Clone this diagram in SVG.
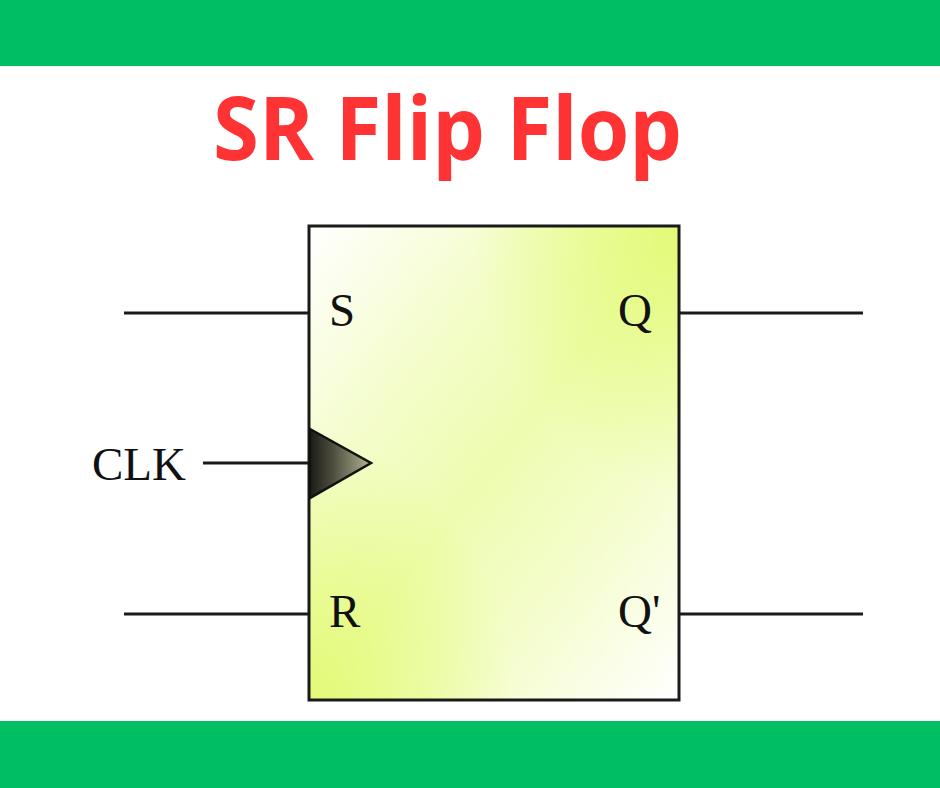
<svg xmlns="http://www.w3.org/2000/svg" width="940" height="788" viewBox="0 0 940 788">
<style>
.band{fill:#00BF63}
.wire{stroke:#1a1a1a;stroke-width:3;fill:none}
.lbl{font-family:"Liberation Serif","Times New Roman",serif;font-size:47px;fill:#111111}
.title{font-family:"Open Sans","Noto Sans",sans-serif;font-weight:bold;font-size:87px;fill:#FF3333}
</style>
<defs>
<linearGradient id="boxg" x1="0" y1="0" x2="1" y2="1">
<stop offset="0" stop-color="#ffffff"/>
<stop offset="0.28" stop-color="#f4fdcc"/>
<stop offset="0.5" stop-color="#eefcb0"/>
<stop offset="0.72" stop-color="#f4fdcc"/>
<stop offset="1" stop-color="#ffffff"/>
</linearGradient>
<radialGradient id="trg" cx="1" cy="0" r="0.55">
<stop offset="0" stop-color="#e2fa74" stop-opacity="0.95"/>
<stop offset="1" stop-color="#e2fa74" stop-opacity="0"/>
</radialGradient>
<radialGradient id="blg" cx="0" cy="1" r="0.55">
<stop offset="0" stop-color="#e2fa74" stop-opacity="0.95"/>
<stop offset="1" stop-color="#e2fa74" stop-opacity="0"/>
</radialGradient>
<linearGradient id="clkg" x1="0" y1="0" x2="1" y2="0">
<stop offset="0" stop-color="#1c1c18"/>
<stop offset="0.35" stop-color="#4a4a3c"/>
<stop offset="1" stop-color="#b4b692"/>
</linearGradient>
</defs>
<rect width="940" height="788" fill="#ffffff"/>
<rect class="band" x="0" y="0" width="940" height="66"/>
<rect class="band" x="0" y="721" width="940" height="67"/>
<text class="title" x="213" y="160" textLength="469" lengthAdjust="spacingAndGlyphs">SR Flip Flop</text>
<g id="connectors">
<line class="wire" x1="124" y1="313" x2="309" y2="313"/>
<line class="wire" x1="124" y1="614" x2="309" y2="614"/>
<line class="wire" x1="203" y1="463" x2="309" y2="463"/>
<line class="wire" x1="679" y1="313" x2="863" y2="313"/>
<line class="wire" x1="679" y1="614" x2="863" y2="614"/>
</g>
<g id="flipflop">
<rect x="309" y="226" width="370" height="474" fill="url(#boxg)"/>
<rect x="309" y="226" width="370" height="474" fill="url(#trg)"/>
<rect x="309" y="226" width="370" height="474" fill="url(#blg)"/>
<rect x="309" y="226" width="370" height="474" fill="none" stroke="#1a1a1a" stroke-width="3"/>
<polygon points="310,429 371,463 310,498" fill="url(#clkg)" stroke="#111" stroke-width="2.5" stroke-linejoin="miter"/>
<text class="lbl" x="329" y="326">S</text>
<text class="lbl" x="329" y="627">R</text>
<text class="lbl" x="618" y="326">Q</text>
<text class="lbl" x="618" y="627">Q'</text>
</g>
<g id="clk-label">
<text class="lbl" x="92" y="480">CLK</text>
</g>
</svg>
